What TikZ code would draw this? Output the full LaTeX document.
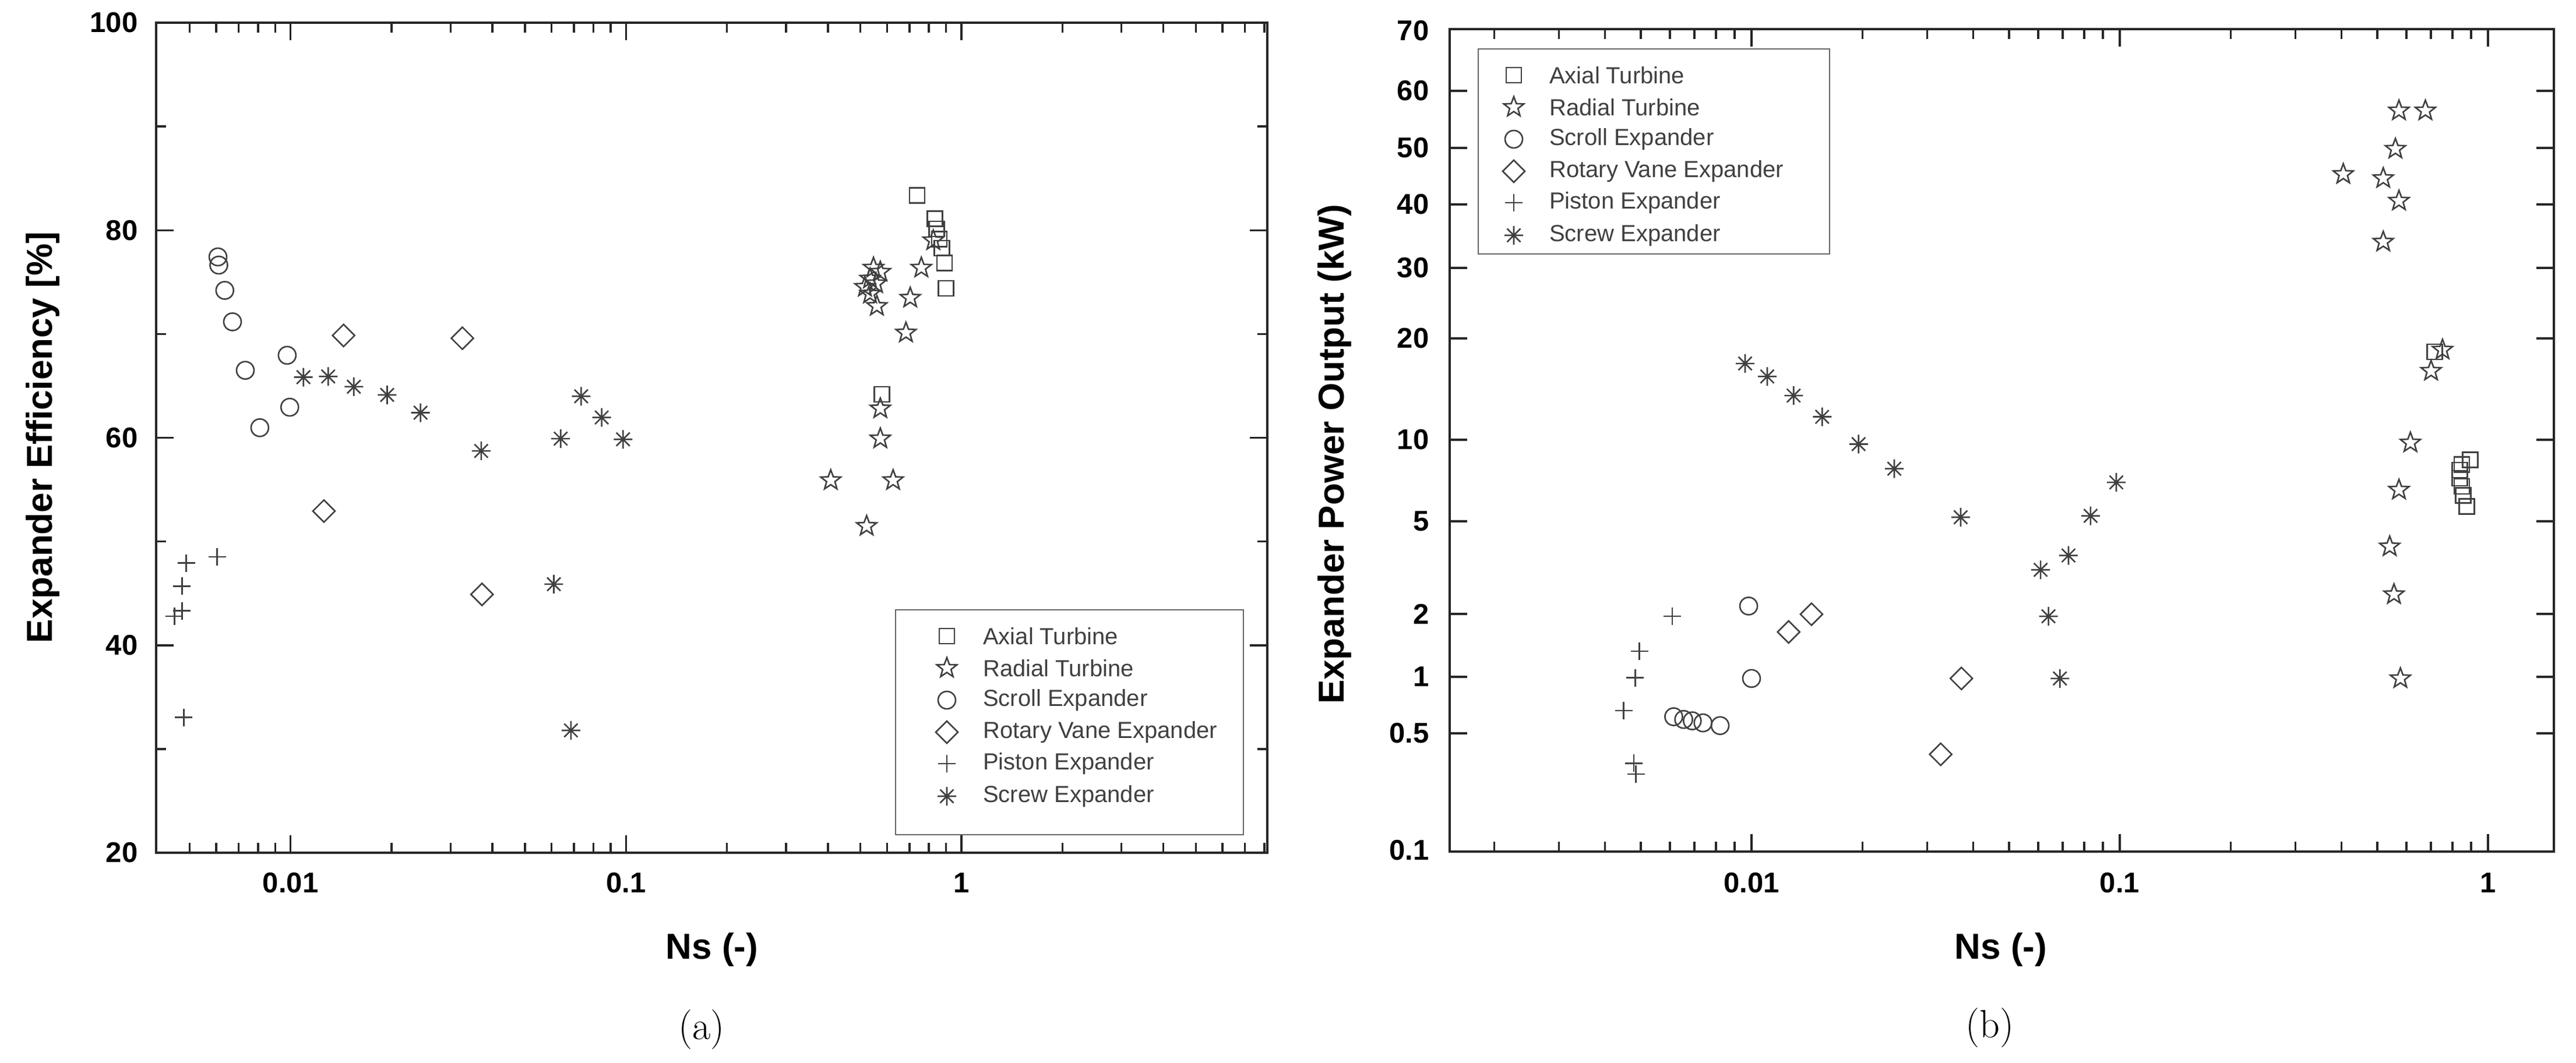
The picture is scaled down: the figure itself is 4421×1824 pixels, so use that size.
\documentclass[tikz,border=0pt]{standalone}
\usepackage{fontspec}
\newfontfamily\hv{Liberation Sans}
\begin{document}
\begin{tikzpicture}[x=1pt,y=-1pt,line cap=butt,
  mk/.style={draw=black!75,line width=2.6pt},
  fr/.style={line width=4pt,draw=black!85},
  tk/.style={line width=3.5pt,draw=black!85},
  tl/.style={font=\hv\bfseries\fontsize{49}{55}\selectfont},
  ttl/.style={font=\hv\bfseries\fontsize{62}{70}\selectfont},
  lg/.style={font=\hv\fontsize{40}{46}\selectfont,text=black!75,anchor=west,inner sep=0},
  sq/.pic={\draw[mk] (-13,-13) rectangle (13,13);},
  ci/.pic={\draw[mk] (0,0) circle[radius=15];},
  di/.pic={\draw[mk] (0,-19)--(19,0)--(0,19)--(-19,0)--cycle;},
  st/.pic={\draw[mk,line join=miter] (-90:18)--(-54:7.5)--(-18:18)--(18:7.5)--(54:18)--(90:7.5)--(126:18)--(162:7.5)--(198:18)--(234:7.5)--cycle;},
  pl/.pic={\draw[mk] (-15,0)--(15,0) (0,-15)--(0,15);},
  as/.pic={\draw[mk] (-16,0)--(16,0) (0,-16)--(0,16) (-11.5,-11.5)--(11.5,11.5) (-11.5,11.5)--(11.5,-11.5);}
]
\useasboundingbox[fill=white] (0,0) rectangle (4421,1824);

% ================= Panel (a) =================
\draw[fr] (268,39) rectangle (2175,1464);
% y ticks
\foreach \v in {20,40,...,100}{
  \draw[tk] (268,{1464-(\v-20)*17.8125}) -- ++(30,0);
  \draw[tk] (2175,{1464-(\v-20)*17.8125}) -- ++(-30,0);
  \node[tl,anchor=east] at (240,{1464-(\v-20)*17.8125}) {\v};}
\foreach \v in {30,50,70,90}{
  \draw[tk] (268,{1464-(\v-20)*17.8125}) -- ++(17,0);
  \draw[tk] (2175,{1464-(\v-20)*17.8125}) -- ++(-17,0);}
% x ticks
\foreach \d/\lab in {-2/0.01,-1/0.1,0/1}{
  \draw[tk] ({1650+575.7*\d},1464) -- ++(0,-30);
  \draw[tk] ({1650+575.7*\d},39) -- ++(0,30);
  \node[tl,anchor=north] at ({1650+575.7*\d},1495) {\lab};}
\foreach \d/\ms in {-3/{5,6,7,8,9},-2/{2,3,4,5,6,7,8,9},-1/{2,3,4,5,6,7,8,9},0/{2,3,4,5,6,7,8}}{
  \foreach \m in \ms {
    \draw[tk] ({1650+575.7*(\d+log10(\m))},1464) -- ++(0,-17);
    \draw[tk] ({1650+575.7*(\d+log10(\m))},39) -- ++(0,17);}}
\node[ttl] at (1222,1630) {Ns (-)};
\node[ttl,rotate=90] at (73,751) {Expander Efficiency [\%]};
\node[font=\fontsize{68}{76}\selectfont] at (1204,1768) {(a)};
% data (a)
\foreach \u/\v in {1073/286,1094/320,1096/335,1099/350,1102/363,1105/385,1107/422,1032/577}
  \pic at ({\u*1.4668},{\v*1.173}) {sq};
\foreach \u/\v in {1022/392,1030/398,1012/420,1025/415,1018/430,1026/448,1018/408,1078/392,1065/436,1060/487,1030/598,1030/642,972/703,1045/703,1014/770,1092/352}
  \pic at ({\u*1.4668},{\v*1.173}) {st};
\foreach \u/\v in {255/376,256/388,263/425,272/471,287/542,336/520,339/596,304/626}
  \pic at ({\u*1.4668},{\v*1.173}) {ci};
\foreach \u/\v in {402/491,541/495,379/748,564/870}
  \pic at ({\u*1.4668},{\v*1.173}) {di};
\foreach \u/\v in {204/902,213/894,213/858,218/824,254/815,215/1050}
  \pic at ({\u*1.4668},{\v*1.173}) {pl};
\foreach \u/\v in {355/552,384/551,414/566,453/578,492/604,563/660,656/642,680/580,704/611,729/643,648/855,668/1069}
  \pic at ({\u*1.4668},{\v*1.173}) {as};
% legend (a)
\draw[line width=2.5pt,draw=black!60] (1537,1047) rectangle (2134,1433);
\foreach \y/\p/\t in {1092/sq/Axial Turbine,1147/st/Radial Turbine,1202/ci/Scroll Expander,1257/di/Rotary Vane Expander,1311/pl/Piston Expander,1367/as/Screw Expander}{
  \pic at (1625,\y) {\p};
  \node[lg] at (1687,\y) {\t};}

% ================= Panel (b) =================
\draw[fr] (2488,50) rectangle (4383,1462);
\foreach \y/\lab in {53/70,156/60,254/50,351/40,460/30,581/20,755/10,895/5,1054/2,1162/1,1259/0.5,1460/0.1}{
  \node[tl,anchor=east] at (2456,\y) {\lab};}
\foreach \y in {156,254,351,460,581,755,895,1054,1162,1259}{
  \draw[tk] (2488,\y) -- ++(30,0);
  \draw[tk] (4383,\y) -- ++(-30,0);}
\foreach \d/\lab in {-2/0.01,-1/0.1,0/1}{
  \draw[tk] ({4270+632*\d},1462) -- ++(0,-30);
  \draw[tk] ({4270+632*\d},50) -- ++(0,30);
  \node[tl,anchor=north] at ({4270+632*\d},1495) {\lab};}
\foreach \d/\ms in {-3/{2,3,4,5,6,7,8,9},-2/{2,3,4,5,6,7,8,9},-1/{2,3,4,5,6,7,8,9}}{
  \foreach \m in \ms {
    \draw[tk] ({4270+632*(\d+log10(\m))},1462) -- ++(0,-17);
    \draw[tk] ({4270+632*(\d+log10(\m))},50) -- ++(0,17);}}
\node[ttl] at (3434,1630) {Ns (-)};
\node[ttl,rotate=90] at (2290,780) {Expander Power Output (kW)};
\node[font=\fontsize{68}{76}\selectfont] at (3415,1765) {(b)};
% data (b)
\foreach \u/\v in {1370/515,1420/673,1408/680,1405/688,1405/700,1408/712,1410/725,1415/741}
  \pic at ({2500+\u*1.2251},{\v*1.173}) {sq};
\foreach \u/\v in {1320/162,1357/162,1315/218,1242/255,1298/261,1320/294,1298/354,1381/512,1365/543,1336/648,1320/717,1307/800,1313/870,1322/993}
  \pic at ({2500+\u*1.2251},{\v*1.173}) {st};
\foreach \u/\v in {409/887,413/993,304/1049,318/1053,330/1055,345/1058,369/1062}
  \pic at ({2500+\u*1.2251},{\v*1.173}) {ci};
\foreach \u/\v in {465/925,497/899,707/993,678/1104}
  \pic at ({2500+\u*1.2251},{\v*1.173}) {di};
\foreach \u/\v in {302/902,256/953,250/992,234/1040,248/1117,251/1133}
  \pic at ({2500+\u*1.2251},{\v*1.173}) {pl};
\foreach \u/\v in {404/532,435/551,472/579,512/610,563/650,613/686,706/757,818/834,857/813,888/755,924/706,829/902,845/993}
  \pic at ({2500+\u*1.2251},{\v*1.173}) {as};
% legend (b)
\draw[line width=2.5pt,draw=black!60] (2537,84) rectangle (3140,436);
\foreach \y/\p/\t in {129/sq/Axial Turbine,184/st/Radial Turbine,239/ci/Scroll Expander,294/di/Rotary Vane Expander,348/pl/Piston Expander,404/as/Screw Expander}{
  \pic at (2598,\y) {\p};
  \node[lg] at (2659,\y) {\t};}
\end{tikzpicture}
\end{document}
